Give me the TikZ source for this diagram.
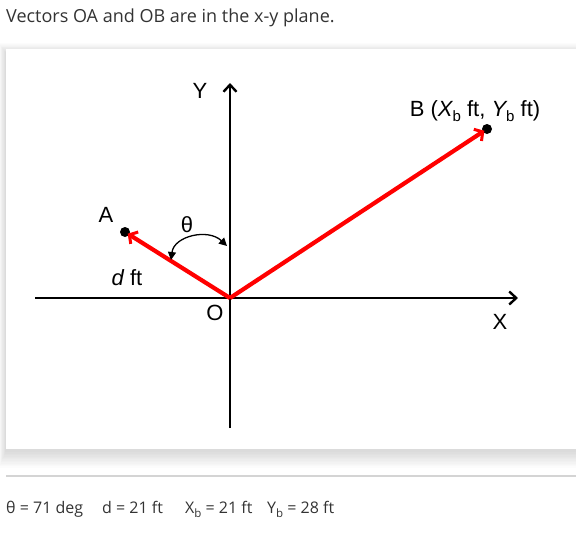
\documentclass[tikz,border=0pt]{standalone}
\usepackage{fontspec}
\setmainfont{Open Sans}
\newfontfamily\arialf{Liberation Sans}
\usetikzlibrary{arrows.meta}
\definecolor{txt}{HTML}{333333}
\definecolor{sep}{HTML}{D4D4D4}
\tikzset{
  axis/.style={line width=2.8pt, -{Straight Barb[length=7pt,width=13pt,line width=2.4pt]}},
  vec/.style={draw=red, line width=4.2pt, -{Straight Barb[length=6pt,width=14pt,line width=3pt]}, shorten >=-2pt},
  anglearc/.style={line width=1.3pt, {Triangle[length=8pt,width=8pt]}-{Triangle[length=8pt,width=8pt]}},
  dot/.style={circle, fill=black, inner sep=0pt, minimum size=10pt},
  lab/.style={font=\arialf\fontsize{22}{25}\selectfont, anchor=base, inner sep=0pt},
  page/.style={font=\fontsize{18}{21}\selectfont, text=txt, anchor=base west, inner sep=0pt},
  foot/.style={font=\fontsize{16}{19}\selectfont, text=txt, anchor=base west, inner sep=0pt},
}
\newcommand{\subb}{\raisebox{-0.28em}{\fontsize{11.5}{13}\selectfont b}}
\begin{document}
\begin{tikzpicture}[x=1pt,y=-1pt]
\useasboundingbox (0,0) rectangle (576,536);
\fill[white] (0,0) rectangle (576,536);
% panel shadow
\foreach \i in {1,...,12}{
  \fill[black, opacity=0.012] (6-0.6*\i, 49-0.8*\i+4) rectangle (600, 449+1.4*\i+2);
}
\fill[white] (6,49) rectangle (600,449);
% separator
\draw[sep, line width=2pt] (6,476) -- (576,476);
% title
\node[page] (title) at (6,22) {Vectors OA and OB are in the x-y plane.};
% footer
\node[foot] (f1) at (6,513) {θ = 71 deg};
\node[foot] (f2) at (102,513) {d = 21 ft};
\node[foot] (f3) at (185,513) {X\subb{} = 21 ft};
\node[foot] (f4) at (267,513) {Y\subb{} = 28 ft};
% axes
\coordinate (O) at (230,298);
\coordinate (ytop) at (230,83);
\coordinate (ybot) at (230,428);
\coordinate (xl) at (35,298);
\coordinate (xr) at (518,298);
\draw[axis] (ybot) -- (ytop);
\draw[axis] (xl) -- (xr);
% points
\node[dot] (A) at (125,232) {};
\node[dot] (B) at (487,129) {};
\draw[vec] (O) -- (A);
\draw[vec] (O) -- (B);
% angle arc
\coordinate (t1) at (171,260);
\coordinate (t2) at (227,246);
\draw[anglearc] (t1) .. controls (174,236) and (208,228) .. (t2);
% labels
\node[lab] (lA) at (106,222) {A};
\node[lab] (lY) at (200,98) {Y};
\node[lab] (lX) at (500,329) {X};
\node[lab] (lO) at (215,320) {O};
\node[lab] (lth) at (187,232) {θ};
\node[lab] (ld) at (127,285) {\itshape d\upshape{} ft};
\node[lab] (lB) at (475,116) {B (\itshape X\upshape\raisebox{-0.25em}{\fontsize{15}{16}\selectfont b} ft, \itshape Y\upshape\raisebox{-0.25em}{\fontsize{15}{16}\selectfont b} ft)};
\end{tikzpicture}
\end{document}
